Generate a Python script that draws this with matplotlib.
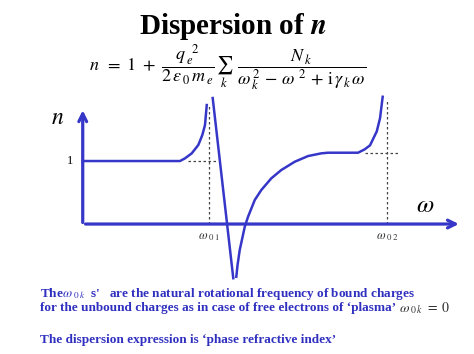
import matplotlib.pyplot as plt

plt.rcParams['font.family'] = ['Liberation Serif', 'DejaVu Serif']
plt.rcParams['mathtext.fontset'] = 'stix'

blue = '#3636c8'

# curve (x in units of w01, y in units of n=1)
b1_x = [0.0, 0.77, 0.81, 0.863, 0.915, 0.947, 0.968, 0.982]
b1_y = [1.0, 1.0, 1.043, 1.122, 1.254, 1.413, 1.571, 1.889]
b2_x = [1.029, 1.192]
b2_y = [2.0, -0.86]
b3_x = [1.216, 1.226, 1.243, 1.283, 1.309, 1.362, 1.414, 1.493, 1.572, 1.679, 1.784,
        1.889, 1.942, 2.18, 2.233, 2.275, 2.328, 2.354, 2.375]
b3_y = [-0.837, -0.65, -0.413, -0.043, 0.116, 0.381, 0.54, 0.725, 0.857, 0.989, 1.079,
        1.122, 1.132, 1.132, 1.186, 1.25, 1.47, 1.68, 2.02]
w01, w02 = 1.0, 2.41
n1, n2 = 1.0, 1.132

fig = plt.figure(figsize=(4.74, 3.54), dpi=100)
ax = fig.add_axes([0, 0, 1, 1])
ax.set_xlim(-0.655, 3.098)
ax.set_ylim(-2.063, 3.556)
ax.axis('off')

# axes with arrows
ax.annotate('', xy=(3.0, 0), xytext=(0, 0),
            arrowprops=dict(arrowstyle='->', lw=2.3, color=blue, mutation_scale=14))
ax.annotate('', xy=(0, 1.85), xytext=(0, -0.02),
            arrowprops=dict(arrowstyle='->', lw=2.3, color=blue, mutation_scale=14))

for xs, ys in [(b1_x, b1_y), (b2_x, b2_y), (b3_x, b3_y)]:
    ax.plot(xs, ys, color=blue, lw=1.8, solid_joinstyle='round')

# dashed guides
dash = dict(ls=(0, (2, 2)), color='#444444', lw=0.9)
ax.plot([w01, w01], [0, 1.88], **dash)
ax.plot([0.834, 1.063], [n1, n1], **dash)
ax.plot([w02, w02], [0, 1.97], **dash)
ax.plot([2.235, 2.5], [n2, n2], **dash)

ax.text(-0.1, 1.0, '1', ha='center', va='center', fontsize=9)
ax.text(-0.195, 1.68, '$n$', ha='center', va='center', fontsize=17)
ax.text(2.71, 0.28, r'$\omega$', ha='center', va='center', fontsize=18)
ax.text(w01, -0.2, r'$\omega_{\ 0\,1}$', ha='center', va='center', fontsize=9, color='#333333')
ax.text(w02, -0.2, r'$\omega_{\ 0\,2}$', ha='center', va='center', fontsize=9, color='#333333')

fig.text(233 / 474, 1 - 26 / 354, r'Dispersion of $\mathbfit{n}$', ha='center', va='center',
         fontsize=21, fontweight='bold')
fig.text(227.5 / 474, 1 - 68 / 354,
         r'$n\ \,=\ 1\ +\ \dfrac{q_{\,e}^{\ \ 2}}{2\,\varepsilon_{\,0}\,m_{\,e}}\,\sum_{k}\ \,\dfrac{N_{\,k}}{\omega_{\,k}^{\,2}\,-\,\omega^{\ 2}\,+\,\mathrm{i}\,\gamma_{\,k}\,\omega}$',
         ha='center', va='center', fontsize=13)

tcol = '#3030c0'
fig.text(40 / 474, 1 - 294 / 354,
         r"The$\omega_{\ 0\,k}$  s'   are the natural rotational frequency of bound charges",
         ha='left', va='center', fontsize=9.5, fontweight='bold', color=tcol)
fig.text(40 / 474, 1 - 308 / 354,
         "for the unbound charges as in case of free electrons of \u2018plasma\u2019",
         ha='left', va='center', fontsize=9.5, fontweight='bold', color=tcol)
fig.text(399 / 474, 1 - 308 / 354, r'$\omega_{\ 0\,k}\ =\ 0$',
         ha='left', va='center', fontsize=10, color='#333333')
fig.text(40 / 474, 1 - 340 / 354,
         "The dispersion expression is \u2018phase refractive index\u2019",
         ha='left', va='center', fontsize=9.5, fontweight='bold', color=tcol)

fig.savefig('out.png', dpi=100)
